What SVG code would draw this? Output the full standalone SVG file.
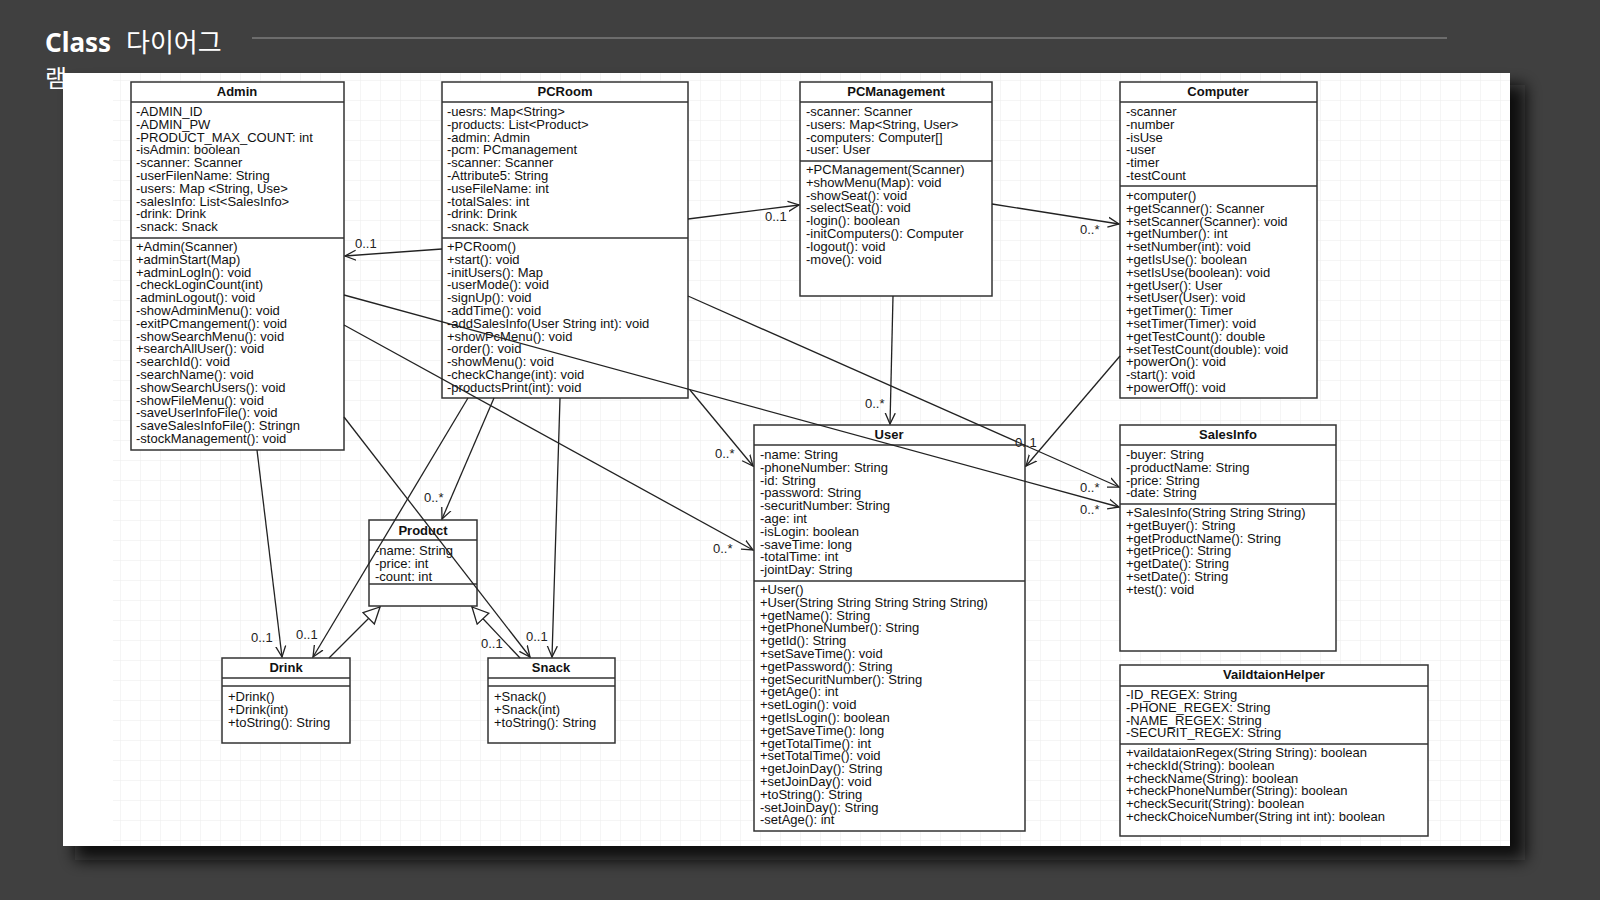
<svg xmlns="http://www.w3.org/2000/svg" width="1600" height="900" viewBox="0 0 1600 900">
<defs>
<style>
.b{fill:#fff;stroke:#333;stroke-width:1.5}
.d{stroke:#333;stroke-width:1.3}
.h{font-family:"Liberation Sans",Arial,sans-serif;font-size:13px;font-weight:bold;text-anchor:middle;fill:#111}
.t{font-family:"Liberation Sans",Arial,sans-serif;font-size:13px;fill:#111}
.c{fill:none;stroke:#222;stroke-width:1.3}
.l{font-family:"Liberation Sans",Arial,sans-serif;font-size:13px;fill:#222}
</style>
<pattern id="g" width="20" height="20" patternUnits="userSpaceOnUse"><path d="M20 0H0V20" fill="none" stroke="#ececec" stroke-width="1"/></pattern>
<marker id="a" markerWidth="12" markerHeight="12" refX="11" refY="6" orient="auto" markerUnits="userSpaceOnUse"><path d="M0,1 L11,6 L0,11" fill="none" stroke="#222" stroke-width="1.3"/></marker>
<marker id="tri" markerWidth="20" markerHeight="20" refX="17" refY="9" orient="auto" markerUnits="userSpaceOnUse"><path d="M1,1 L17,9 L1,17 Z" fill="#fff" stroke="#222" stroke-width="1.3"/></marker>
<filter id="s" x="-5%" y="-5%" width="110%" height="115%"><feGaussianBlur stdDeviation="8"/></filter>
</defs>
<rect width="1600" height="900" fill="#404040"/>
<text x="45" y="52" font-family="'Noto Sans','Noto Sans CJK KR',sans-serif" font-size="26" font-weight="bold" fill="#fff">Class</text>
<text x="126" y="52" font-family="'Noto Sans CJK KR',sans-serif" font-size="26" fill="#fff">다이어그</text>
<text x="45" y="87" font-family="'Noto Sans CJK KR',sans-serif" font-size="24" fill="#fff">램</text>
<line x1="252" y1="38" x2="1447" y2="38" stroke="#999" stroke-width="1"/>
<rect x="75" y="85" width="1450" height="775" fill="#111" filter="url(#s)"/>
<rect x="63" y="73" width="1447" height="773" fill="#fff"/>
<rect x="113" y="73" width="1397" height="773" fill="url(#g)"/>

<g id="admin"><rect class="b" x="131" y="82" width="213" height="368"/><line class="d" x1="131" y1="102" x2="344" y2="102"/><line class="d" x1="131" y1="238" x2="344" y2="238"/>
<text class="h" x="237" y="96">Admin</text>
<text class="t"><tspan x="136" y="116">-ADMIN_ID</tspan><tspan x="136" dy="12.8">-ADMIN_PW</tspan><tspan x="136" dy="12.8">-PRODUCT_MAX_COUNT: int</tspan><tspan x="136" dy="12.8">-isAdmin: boolean</tspan><tspan x="136" dy="12.8">-scanner: Scanner</tspan><tspan x="136" dy="12.8">-userFilenName: String</tspan><tspan x="136" dy="12.8">-users: Map &lt;String, Use&gt;</tspan><tspan x="136" dy="12.8">-salesInfo: List&lt;SalesInfo&gt;</tspan><tspan x="136" dy="12.8">-drink: Drink</tspan><tspan x="136" dy="12.8">-snack: Snack</tspan></text>
<text class="t"><tspan x="136" y="251">+Admin(Scanner)</tspan><tspan x="136" dy="12.8">+adminStart(Map)</tspan><tspan x="136" dy="12.8">+adminLogIn(): void</tspan><tspan x="136" dy="12.8">-checkLoginCount(int)</tspan><tspan x="136" dy="12.8">-adminLogout(): void</tspan><tspan x="136" dy="12.8">-showAdminMenu(): void</tspan><tspan x="136" dy="12.8">-exitPCmangement(): void</tspan><tspan x="136" dy="12.8">-showSearchMenu(): void</tspan><tspan x="136" dy="12.8">+searchAllUser(): void</tspan><tspan x="136" dy="12.8">-searchId(): void</tspan><tspan x="136" dy="12.8">-searchName(): void</tspan><tspan x="136" dy="12.8">-showSearchUsers(): void</tspan><tspan x="136" dy="12.8">-showFileMenu(): void</tspan><tspan x="136" dy="12.8">-saveUserInfoFile(): void</tspan><tspan x="136" dy="12.8">-saveSalesInfoFile(): Stringn</tspan><tspan x="136" dy="12.8">-stockManagement(): void</tspan></text></g>

<g id="pcroom"><rect class="b" x="442" y="82" width="246" height="316"/><line class="d" x1="442" y1="102" x2="688" y2="102"/><line class="d" x1="442" y1="238" x2="688" y2="238"/>
<text class="h" x="565" y="96">PCRoom</text>
<text class="t"><tspan x="447" y="116">-uesrs: Map&lt;String&gt;</tspan><tspan x="447" dy="12.8">-products: List&lt;Product&gt;</tspan><tspan x="447" dy="12.8">-admin: Admin</tspan><tspan x="447" dy="12.8">-pcm: PCmanagement</tspan><tspan x="447" dy="12.8">-scanner: Scanner</tspan><tspan x="447" dy="12.8">-Attribute5: String</tspan><tspan x="447" dy="12.8">-useFileName: int</tspan><tspan x="447" dy="12.8">-totalSales: int</tspan><tspan x="447" dy="12.8">-drink: Drink</tspan><tspan x="447" dy="12.8">-snack: Snack</tspan></text>
<text class="t"><tspan x="447" y="251">+PCRoom()</tspan><tspan x="447" dy="12.8">+start(): void</tspan><tspan x="447" dy="12.8">-initUsers(): Map</tspan><tspan x="447" dy="12.8">-userMode(): void</tspan><tspan x="447" dy="12.8">-signUp(): void</tspan><tspan x="447" dy="12.8">-addTime(): void</tspan><tspan x="447" dy="12.8">-addSalesInfo(User String int): void</tspan><tspan x="447" dy="12.8">+showPcMenu(): void</tspan><tspan x="447" dy="12.8">-order(): void</tspan><tspan x="447" dy="12.8">-showMenu(): void</tspan><tspan x="447" dy="12.8">-checkChange(int): void</tspan><tspan x="447" dy="12.8">-productsPrint(int): void</tspan></text></g>

<g id="pcmanagement"><rect class="b" x="800" y="82" width="192" height="214"/><line class="d" x1="800" y1="102" x2="992" y2="102"/><line class="d" x1="800" y1="161" x2="992" y2="161"/>
<text class="h" x="896" y="96">PCManagement</text>
<text class="t"><tspan x="806" y="116">-scanner: Scanner</tspan><tspan x="806" dy="12.8">-users: Map&lt;String, User&gt;</tspan><tspan x="806" dy="12.8">-computers: Computer[]</tspan><tspan x="806" dy="12.8">-user: User</tspan></text>
<text class="t"><tspan x="806" y="174">+PCManagement(Scanner)</tspan><tspan x="806" dy="12.8">+showMenu(Map): void</tspan><tspan x="806" dy="12.8">-showSeat(): void</tspan><tspan x="806" dy="12.8">-selectSeat(): void</tspan><tspan x="806" dy="12.8">-login(): boolean</tspan><tspan x="806" dy="12.8">-initComputers(): Computer</tspan><tspan x="806" dy="12.8">-logout(): void</tspan><tspan x="806" dy="12.8">-move(): void</tspan></text></g>

<g id="computer"><rect class="b" x="1120" y="82" width="197" height="316"/><line class="d" x1="1120" y1="102" x2="1317" y2="102"/><line class="d" x1="1120" y1="186" x2="1317" y2="186"/>
<text class="h" x="1218" y="96">Computer</text>
<text class="t"><tspan x="1126" y="116">-scanner</tspan><tspan x="1126" dy="12.8">-number</tspan><tspan x="1126" dy="12.8">-isUse</tspan><tspan x="1126" dy="12.8">-user</tspan><tspan x="1126" dy="12.8">-timer</tspan><tspan x="1126" dy="12.8">-testCount</tspan></text>
<text class="t"><tspan x="1126" y="200">+computer()</tspan><tspan x="1126" dy="12.8">+getScanner(): Scanner</tspan><tspan x="1126" dy="12.8">+setScanner(Scanner): void</tspan><tspan x="1126" dy="12.8">+getNumber(): int</tspan><tspan x="1126" dy="12.8">+setNumber(int): void</tspan><tspan x="1126" dy="12.8">+getIsUse(): boolean</tspan><tspan x="1126" dy="12.8">+setIsUse(boolean): void</tspan><tspan x="1126" dy="12.8">+getUser(): User</tspan><tspan x="1126" dy="12.8">+setUser(User): void</tspan><tspan x="1126" dy="12.8">+getTimer(): Timer</tspan><tspan x="1126" dy="12.8">+setTimer(Timer): void</tspan><tspan x="1126" dy="12.8">+getTestCount(): double</tspan><tspan x="1126" dy="12.8">+setTestCount(double): void</tspan><tspan x="1126" dy="12.8">+powerOn(): void</tspan><tspan x="1126" dy="12.8">-start(): void</tspan><tspan x="1126" dy="12.8">+powerOff(): void</tspan></text></g>

<g id="user"><rect class="b" x="754" y="425" width="271" height="406"/><line class="d" x1="754" y1="445" x2="1025" y2="445"/><line class="d" x1="754" y1="581" x2="1025" y2="581"/>
<text class="h" x="889" y="439">User</text>
<text class="t"><tspan x="760" y="459">-name: String</tspan><tspan x="760" dy="12.8">-phoneNumber: String</tspan><tspan x="760" dy="12.8">-id: String</tspan><tspan x="760" dy="12.8">-password: String</tspan><tspan x="760" dy="12.8">-securitNumber: String</tspan><tspan x="760" dy="12.8">-age: int</tspan><tspan x="760" dy="12.8">-isLogin: boolean</tspan><tspan x="760" dy="12.8">-saveTime: long</tspan><tspan x="760" dy="12.8">-totalTime: int</tspan><tspan x="760" dy="12.8">-jointDay: String</tspan></text>
<text class="t"><tspan x="760" y="594">+User()</tspan><tspan x="760" dy="12.8">+User(String String String String String)</tspan><tspan x="760" dy="12.8">+getName(): String</tspan><tspan x="760" dy="12.8">+getPhoneNumber(): String</tspan><tspan x="760" dy="12.8">+getId(): String</tspan><tspan x="760" dy="12.8">+setSaveTime(): void</tspan><tspan x="760" dy="12.8">+getPassword(): String</tspan><tspan x="760" dy="12.8">+getSecuritNumber(): String</tspan><tspan x="760" dy="12.8">+getAge(): int</tspan><tspan x="760" dy="12.8">+setLogin(): void</tspan><tspan x="760" dy="12.8">+getIsLogin(): boolean</tspan><tspan x="760" dy="12.8">+getSaveTime(): long</tspan><tspan x="760" dy="12.8">+getTotalTime(): int</tspan><tspan x="760" dy="12.8">+setTotalTime(): void</tspan><tspan x="760" dy="12.8">+getJoinDay(): String</tspan><tspan x="760" dy="12.8">+setJoinDay(): void</tspan><tspan x="760" dy="12.8">+toString(): String</tspan><tspan x="760" dy="12.8">-setJoinDay(): String</tspan><tspan x="760" dy="12.8">-setAge(): int</tspan></text></g>

<g id="salesinfo"><rect class="b" x="1120" y="425" width="216" height="226"/><line class="d" x1="1120" y1="445" x2="1336" y2="445"/><line class="d" x1="1120" y1="504" x2="1336" y2="504"/>
<text class="h" x="1228" y="439">SalesInfo</text>
<text class="t"><tspan x="1126" y="459">-buyer: String</tspan><tspan x="1126" dy="12.8">-productName: String</tspan><tspan x="1126" dy="12.8">-price: String</tspan><tspan x="1126" dy="12.8">-date: String</tspan></text>
<text class="t"><tspan x="1126" y="517">+SalesInfo(String String String)</tspan><tspan x="1126" dy="12.8">+getBuyer(): String</tspan><tspan x="1126" dy="12.8">+getProductName(): String</tspan><tspan x="1126" dy="12.8">+getPrice(): String</tspan><tspan x="1126" dy="12.8">+getDate(): String</tspan><tspan x="1126" dy="12.8">+setDate(): String</tspan><tspan x="1126" dy="12.8">+test(): void</tspan></text></g>

<g id="vaildtaionhelper"><rect class="b" x="1120" y="665" width="308" height="171"/><line class="d" x1="1120" y1="686" x2="1428" y2="686"/><line class="d" x1="1120" y1="744" x2="1428" y2="744"/>
<text class="h" x="1274" y="679">VaildtaionHelper</text>
<text class="t"><tspan x="1126" y="699">-ID_REGEX: String</tspan><tspan x="1126" dy="12.8">-PHONE_REGEX: String</tspan><tspan x="1126" dy="12.8">-NAME_REGEX: String</tspan><tspan x="1126" dy="12.8">-SECURIT_REGEX: String</tspan></text>
<text class="t"><tspan x="1126" y="757">+vaildataionRegex(String String): boolean</tspan><tspan x="1126" dy="12.8">+checkId(String): boolean</tspan><tspan x="1126" dy="12.8">+checkName(String): boolean</tspan><tspan x="1126" dy="12.8">+checkPhoneNumber(String): boolean</tspan><tspan x="1126" dy="12.8">+checkSecurit(String): boolean</tspan><tspan x="1126" dy="12.8">+checkChoiceNumber(String int int): boolean</tspan></text></g>

<g id="product"><rect class="b" x="369" y="520" width="108" height="86"/><line class="d" x1="369" y1="540" x2="477" y2="540"/><line class="d" x1="369" y1="584" x2="477" y2="584"/>
<text class="h" x="423" y="535">Product</text>
<text class="t"><tspan x="375" y="555">-name: String</tspan><tspan x="375" dy="12.8">-price: int</tspan><tspan x="375" dy="12.8">-count: int</tspan></text></g>

<g id="drink"><rect class="b" x="222" y="658" width="128" height="85"/><line class="d" x1="222" y1="678" x2="350" y2="678"/><line class="d" x1="222" y1="686" x2="350" y2="686"/>
<text class="h" x="286" y="672">Drink</text>
<text class="t"><tspan x="228" y="701">+Drink()</tspan><tspan x="228" dy="12.8">+Drink(int)</tspan><tspan x="228" dy="12.8">+toString(): String</tspan></text></g>

<g id="snack"><rect class="b" x="488" y="658" width="127" height="85"/><line class="d" x1="488" y1="678" x2="615" y2="678"/><line class="d" x1="488" y1="686" x2="615" y2="686"/>
<text class="h" x="551" y="672">Snack</text>
<text class="t"><tspan x="494" y="701">+Snack()</tspan><tspan x="494" dy="12.8">+Snack(int)</tspan><tspan x="494" dy="12.8">+toString(): String</tspan></text></g>

<g id="connectors">
<line class="c" x1="442" y1="249" x2="345" y2="256" marker-end="url(#a)"/>
<line class="c" x1="688" y1="219" x2="799" y2="205" marker-end="url(#a)"/>
<line class="c" x1="992" y1="204" x2="1119" y2="224" marker-end="url(#a)"/>
<line class="c" x1="893" y1="296" x2="890" y2="424" marker-end="url(#a)"/>
<line class="c" x1="1120" y1="356" x2="1026" y2="466" marker-end="url(#a)"/>
<line class="c" x1="688" y1="296" x2="1119" y2="487" marker-end="url(#a)"/>
<line class="c" x1="344" y1="295" x2="1119" y2="507" marker-end="url(#a)"/>
<line class="c" x1="690" y1="390" x2="753" y2="466" marker-end="url(#a)"/>
<line class="c" x1="344" y1="325" x2="753" y2="550" marker-end="url(#a)"/>
<line class="c" x1="257" y1="450" x2="282" y2="657" marker-end="url(#a)"/>
<line class="c" x1="468" y1="398" x2="313" y2="657" marker-end="url(#a)"/>
<line class="c" x1="494" y1="398" x2="442" y2="519" marker-end="url(#a)"/>
<line class="c" x1="344" y1="417" x2="530" y2="657" marker-end="url(#a)"/>
<line class="c" x1="560" y1="398" x2="552" y2="657" marker-end="url(#a)"/>
<line class="c" x1="329" y1="658" x2="380" y2="607" marker-end="url(#tri)"/>
<line class="c" x1="520" y1="658" x2="472" y2="607" marker-end="url(#tri)"/>
<text class="l"><tspan x="355" y="248">0..1</tspan><tspan x="765" y="221">0..1</tspan><tspan x="1080" y="234">0..*</tspan><tspan x="865" y="408">0..*</tspan><tspan x="1015" y="447">0..1</tspan><tspan x="1080" y="492">0..*</tspan><tspan x="1080" y="514">0..*</tspan><tspan x="715" y="458">0..*</tspan><tspan x="713" y="553">0..*</tspan><tspan x="251" y="642">0..1</tspan><tspan x="296" y="639">0..1</tspan><tspan x="424" y="502">0..*</tspan><tspan x="481" y="648">0..1</tspan><tspan x="526" y="641">0..1</tspan></text>
</g>
</svg>
